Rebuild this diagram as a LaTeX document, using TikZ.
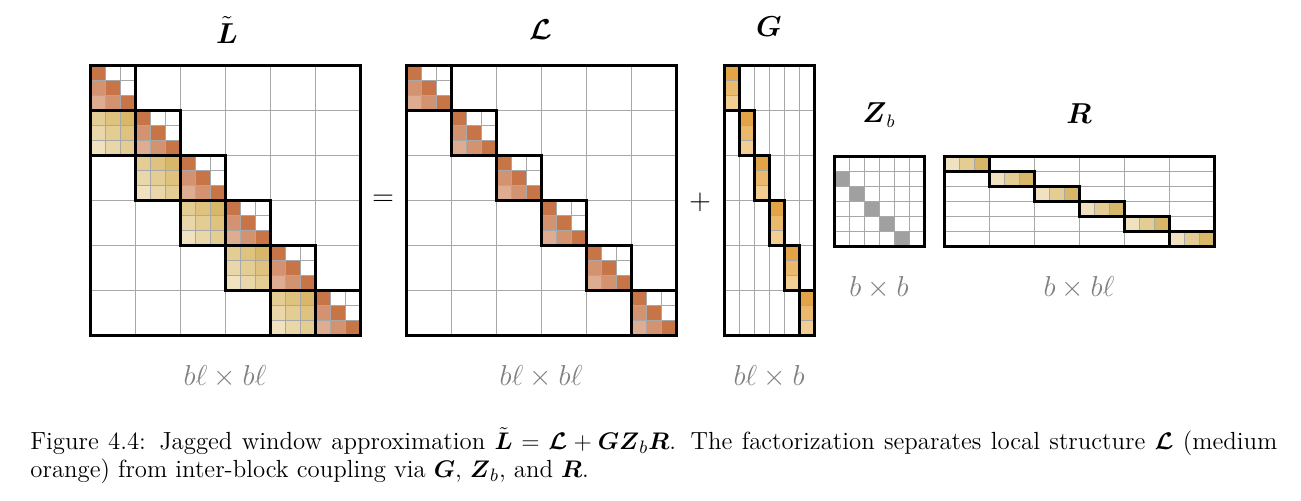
\documentclass[tikz,border=0pt]{standalone}
\usepackage{amsmath,amssymb}
\usepackage{xcolor}
\usepackage{tikz}
\usetikzlibrary{calc}

\definecolor{diag0}{RGB}{199,116,70}
\definecolor{diag1}{RGB}{211,146,112}
\definecolor{diag2}{RGB}{222,173,145}
\definecolor{beigeD}{RGB}{216,183,104}
\definecolor{beigeL}{RGB}{240,226,190}
\definecolor{goldD}{RGB}{226,164,70}
\definecolor{goldL}{RGB}{242,206,146}
\definecolor{gridgray}{RGB}{168,168,168}
\definecolor{zgray}{RGB}{160,160,160}
\definecolor{dimgray}{RGB}{128,128,128}

% Blocos diagonais (triangulares) de L~ e de L:
\newcommand{\diagblocks}{%
  \foreach \b in {0,...,5}{
    \foreach \r in {0,1,2}{
      \foreach \c in {0,...,\r}{
        \pgfmathtruncatemacro{\d}{\r-\c}
        \fill[diag\d] ({45*\b+15*\c},{45*\b+15*\r}) rectangle ++(15,15);
      }}}
  \foreach \i in {45,90,...,225}{
    \draw[gridline] (\i,0) -- (\i,270);
    \draw[gridline] (0,\i) -- (270,\i);
  }
  \foreach \b in {0,...,5}{
    \foreach \t in {15,30}{
      \draw[gridline] ({45*\b+\t},{45*\b}) -- ++(0,45);
      \draw[gridline] ({45*\b},{45*\b+\t}) -- ++(45,0);
    }}}

\begin{document}
\begin{tikzpicture}[x=0.5pt, y=-0.5pt,
  gridline/.style={draw=gridgray, line width=0.5pt},
  blockline/.style={draw=black, line width=1.5pt},
  frame/.style={draw=black, line width=1.5pt},
  matlabel/.style={font=\fontsize{13.5}{16}\selectfont},
  dimlabel/.style={text=dimgray, font=\Large},
  opsign/.style={font=\fontsize{15.5}{18}\selectfont}]
\useasboundingbox (0,0) rectangle (1301,501);

% Matriz L~ (blocos diagonais + subdiagonais):
\begin{scope}[shift={(90,66)}]
  \foreach \b in {0,...,4}{
    \foreach \r in {0,1,2}{
      \foreach \c in {0,1,2}{
        \pgfmathtruncatemacro{\k}{25*(\r+2-\c)}
        \fill[beigeL!\k!beigeD] ({45*\b+15*\c},{45*\b+45+15*\r}) rectangle ++(15,15);
      }}}
  \diagblocks
  \foreach \b in {0,...,4}{
    \foreach \t in {15,30}{
      \draw[gridline] ({45*\b+\t},{45*\b+45}) -- ++(0,45);
      \draw[gridline] ({45*\b},{45*\b+45+\t}) -- ++(45,0);
    }}
  \foreach \b in {0,...,5}
    \draw[blockline] ({45*\b},{45*\b}) rectangle ++(45,45);
  \foreach \b in {0,...,4}
    \draw[blockline] ({45*\b},{45*\b+45}) rectangle ++(45,45);
  \draw[frame] (0,0) rectangle (270,270);
\end{scope}

% Matriz L (somente blocos diagonais):
\begin{scope}[shift={(406,66)}]
  \diagblocks
  \foreach \b in {0,...,5}
    \draw[blockline] ({45*\b},{45*\b}) rectangle ++(45,45);
  \draw[frame] (0,0) rectangle (270,270);
\end{scope}

% Matriz G (bl x b):
\begin{scope}[shift={(724,66)}]
  \foreach \b in {0,...,5}{
    \foreach \r in {0,1,2}{
      \pgfmathtruncatemacro{\k}{50*\r}
      \fill[goldL!\k!goldD] ({15*\b},{45*\b+15*\r}) rectangle ++(15,15);
    }}
  \foreach \i in {15,30,...,75}
    \draw[gridline] (\i,0) -- (\i,270);
  \foreach \i in {45,90,...,225}
    \draw[gridline] (0,\i) -- (90,\i);
  \foreach \b in {0,...,5}{
    \foreach \t in {15,30}
      \draw[gridline] ({15*\b},{45*\b+\t}) -- ++(15,0);
    \draw[blockline] ({15*\b},{45*\b}) rectangle ++(15,45);
  }
  \draw[frame] (0,0) rectangle (90,270);
\end{scope}

% Matriz Z_b (b x b):
\begin{scope}[shift={(834,157)}]
  \foreach \r in {1,...,5}
    \fill[zgray] ({15*(\r-1)},{15*\r}) rectangle ++(15,15);
  \foreach \i in {15,30,...,75}{
    \draw[gridline] (\i,0) -- (\i,90);
    \draw[gridline] (0,\i) -- (90,\i);
  }
  \draw[frame] (0,0) rectangle (90,90);
\end{scope}

% Matriz R (b x bl):
\begin{scope}[shift={(944,157)}]
  \foreach \b in {0,...,5}{
    \foreach \c in {0,1,2}{
      \pgfmathtruncatemacro{\k}{100-50*\c}
      \fill[beigeL!\k!beigeD] ({45*\b+15*\c},{15*\b}) rectangle ++(15,15);
    }}
  \foreach \i in {15,30,...,75}
    \draw[gridline] (0,\i) -- (270,\i);
  \foreach \i in {45,90,...,225}
    \draw[gridline] (\i,0) -- (\i,90);
  \foreach \b in {0,...,5}{
    \foreach \t in {15,30}
      \draw[gridline] ({45*\b+\t},{15*\b}) -- ++(0,15);
    \draw[blockline] ({45*\b},{15*\b}) rectangle ++(45,15);
  }
  \draw[frame] (0,0) rectangle (270,90);
\end{scope}

% Nomes das matrizes:
\node[matlabel] (nLt) at (227,30) {$\tilde{\boldsymbol{L}}$};
\node[matlabel] (nL) at (541,30) {$\boldsymbol{\mathcal{L}}$};
\node[matlabel] (nG) at (769,27) {$\boldsymbol{G}$};
\node[matlabel] (nZ) at (879,115) {$\boldsymbol{Z}_b$};
\node[matlabel] (nR) at (1079,114) {$\boldsymbol{R}$};

% Sinais de = e +:
\node[opsign] (eq) at (383,200) {$=$};
\node[opsign] (plus) at (700,202) {$+$};

% Dimensoes:
\node[dimlabel] (dLt) at (225,377) {$b\ell \times b\ell$};
\node[dimlabel] (dL) at (541,377) {$b\ell \times b\ell$};
\node[dimlabel] (dG) at (769,377) {$b\ell \times b$};
\node[dimlabel] (dZ) at (879,288) {$b \times b$};
\node[dimlabel] (dR) at (1079,288) {$b \times b\ell$};

% Legenda:
\node[anchor=north west, inner sep=0pt, text width=623.5pt, align=justify,
  font=\fontsize{12.4}{14}\selectfont] (caption) at (30,427)
  {Figure 4.4: Jagged window approximation $\tilde{\boldsymbol{L}} = \boldsymbol{\mathcal{L}} + \boldsymbol{G}\boldsymbol{Z}_b\boldsymbol{R}$. The factorization separates local structure $\boldsymbol{\mathcal{L}}$ (medium\linebreak orange) from inter-block coupling via $\boldsymbol{G}$, $\boldsymbol{Z}_b$, and $\boldsymbol{R}$.};
\end{tikzpicture}
\end{document}
